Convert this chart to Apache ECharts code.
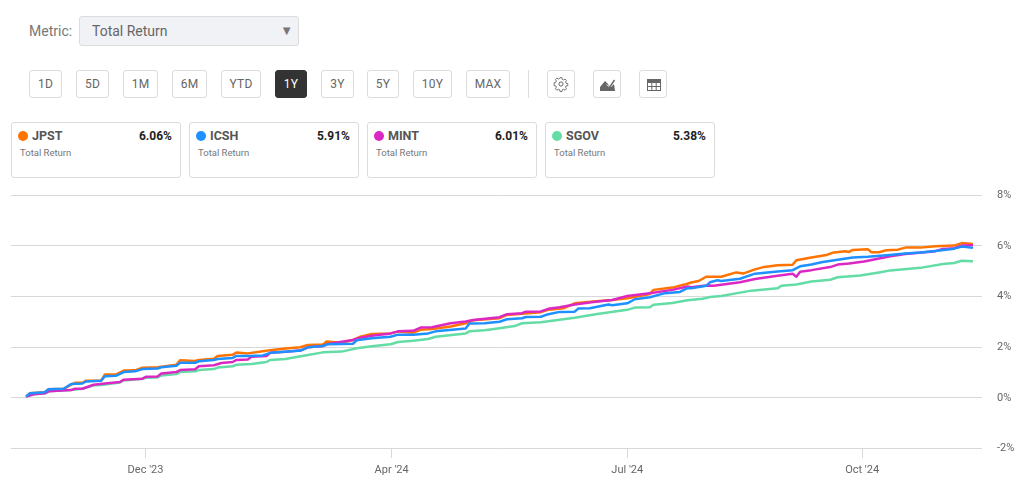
<!DOCTYPE html>
<html>
<head>
<meta charset="utf-8">
<script src="https://cdn.jsdelivr.net/npm/echarts@6/dist/echarts.min.js"></script>
<style>
  html, body { margin: 0; padding: 0; background: #fff; }
  body { width: 1030px; height: 485px; position: relative; overflow: hidden; font-family: Roboto, sans-serif; }
  .abs { position: absolute; box-sizing: border-box; }
  #metricLabel { left: 29px; top: 22px; font-size: 14px; line-height: 18px; color: #777; }
  #metricBox { left: 79px; top: 16px; width: 220px; height: 30px; background: #f1f2f6; border: 1px solid #dcdcdc; border-radius: 3px;
    font-size: 14px; line-height: 28px; padding-left: 12px; color: #666; }
  #metricBox span { position: absolute; right: 5px; top: 0; font-size: 13px; color: #777; }
  .btn { top: 70px; height: 28px; border: 1px solid #dcdcdc; border-radius: 3px; background: #fff; color: #666;
    font-size: 12px; line-height: 26px; text-align: center; letter-spacing: 0.2px; }
  .btn.on { background: #333; border-color: #333; color: #fff; }
  .btn svg { position: absolute; left: 5px; top: 5px; }
  #sep { left: 528px; top: 70px; width: 1px; height: 28px; background: #dcdcdc; }
  .card { top: 122px; width: 170px; height: 56px; border: 1px solid #dcdcdc; border-radius: 3px; background: #fff; }
  .dot { position: absolute; left: 6px; top: 8px; width: 10px; height: 10px; border-radius: 50%; }
  .tk { position: absolute; left: 20px; top: 5px; font-size: 12.5px; line-height: 16px; font-weight: 700; color: #555; }
  .val { position: absolute; right: 8px; top: 5px; font-size: 12px; line-height: 16px; font-weight: 700; color: #222; }
  .sub { position: absolute; left: 8px; top: 23px; font-size: 9.5px; line-height: 13px; color: #777; }
  #chart { left: 0; top: 185px; width: 1030px; height: 300px; }
</style>
</head>
<body>
<div class="abs" id="metricLabel">Metric:</div>
<div class="abs" id="metricBox">Total Return<span>&#9660;</span></div>
<div id="buttons"></div>
<div class="abs" id="sep"></div>
<div class="abs btn" style="left:547px;width:28px"><svg width="16" height="16" viewBox="0 0 16 16" fill="none" stroke="#666" stroke-width="1"><circle cx="8" cy="8" r="2.1"/><path d="M6.9 1.5h2.2l.4 1.9 1.3.6 1.7-1 1.5 1.6-1 1.6.5 1.3 1.9.5v2.2l-1.9.4-.5 1.3 1 1.7-1.5 1.5-1.7-1-1.3.5-.4 1.9H6.9l-.4-1.9-1.3-.5-1.7 1-1.5-1.5 1-1.7-.5-1.3-1.9-.4V7l1.9-.5.5-1.3-1-1.6L3.5 2l1.7 1 1.3-.6z" transform="translate(0.6 0.3) scale(0.92)"/></svg></div>
<div class="abs btn" style="left:593px;width:28px"><svg width="18" height="18" viewBox="0 0 18 18"><path d="M1 15v-4l5-6 3 3 1 2 2 1 3-3 1 7z" fill="#666"/><path d="M7.5 9.5l2.6 2.4L15.5 4" fill="none" stroke="#666" stroke-width="1.4"/><path d="M7.5 8.6l2.6 2.2" stroke="#fff" stroke-width="0.8" fill="none"/></svg></div>
<div class="abs btn" style="left:639px;width:28px"><svg width="18" height="18" viewBox="0 0 18 18" fill="none" stroke="#666" stroke-width="1"><rect x="2.5" y="3.5" width="13" height="11"/><rect x="2.5" y="3.5" width="13" height="3" fill="#666"/><path d="M2.5 10.5h13M6.8 6.5v8M11.2 6.5v8"/></svg></div>
<div id="cards"></div>
<div class="abs" id="chart"></div>
<script>
// Positions along the axis are trading-session numbers (0 to 252 over the year)
const tickSessions = [31.8, 97.3, 160, 222.5];
const tickLabels = ["Dec '23", "Apr '24", "Jul '24", "Oct '24"];

const tickers = ["JPST", "ICSH", "MINT", "SGOV"];
const colors = ["#ff7300", "#1e90ff", "#dc28c3", "#64dca5"];

const jpstSessions = [0,1,5,6,10,13,15,16,20,21,24,26,29,31,35,40,41,45,46,50,51,55,56,59,63,65,69,73,75,79,80,84,87,89,92,97,99,103,105,108,113,117,119,126,128,132,137,139,143,146,151,156,160,166,167,172,176,177,179,181,185,189,191,194,196,200,204,205,209,213,215,218,219,220,224,225,227,229,232,234,238,242,247,249,252];
const jpstValues = [0.03,0.16,0.20,0.32,0.34,0.58,0.58,0.66,0.66,0.91,0.91,1.06,1.07,1.17,1.19,1.29,1.47,1.44,1.48,1.53,1.64,1.69,1.77,1.74,1.82,1.86,1.93,1.98,2.07,2.09,2.21,2.16,2.27,2.40,2.51,2.53,2.60,2.56,2.67,2.70,2.80,2.93,3.05,3.13,3.26,3.31,3.37,3.46,3.52,3.72,3.79,3.85,3.92,4.09,4.25,4.34,4.49,4.54,4.60,4.77,4.77,4.94,4.90,5.06,5.14,5.22,5.24,5.42,5.53,5.63,5.73,5.78,5.75,5.83,5.86,5.74,5.74,5.82,5.84,5.92,5.92,5.97,6.00,6.10,6.06];

const icshSessions = [0,1,5,6,10,12,15,16,20,21,24,26,29,31,35,36,40,41,45,46,50,51,55,56,59,63,65,69,73,75,79,80,84,87,88,92,97,99,103,107,109,117,118,122,126,128,132,133,137,139,142,146,147,150,152,155,156,160,162,166,170,174,176,177,181,182,184,185,190,194,200,204,206,209,212,216,220,224,229,234,238,242,247,249,252];
const icshValues = [0.03,0.16,0.20,0.32,0.34,0.53,0.55,0.63,0.66,0.84,0.86,1.00,1.03,1.12,1.14,1.19,1.25,1.37,1.37,1.43,1.48,1.52,1.56,1.64,1.64,1.66,1.76,1.80,1.85,1.98,2.03,2.10,2.11,2.12,2.26,2.34,2.40,2.48,2.48,2.53,2.61,2.72,2.92,2.93,2.99,3.09,3.13,3.18,3.19,3.29,3.38,3.39,3.51,3.52,3.58,3.67,3.64,3.72,3.88,3.96,4.12,4.17,4.32,4.31,4.41,4.55,4.63,4.60,4.69,4.89,4.98,5.03,5.18,5.25,5.35,5.44,5.53,5.56,5.62,5.69,5.73,5.79,5.88,5.96,5.91];

const mintSessions = [0,2,5,6,12,13,15,18,21,25,26,31,32,35,36,40,41,45,46,50,52,55,56,59,60,64,65,69,73,75,79,80,84,87,89,92,97,99,103,105,108,113,117,119,126,128,132,133,137,139,142,146,151,156,160,166,172,176,177,181,183,190,194,200,204,205,206,209,214,216,219,223,227,230,234,242,244,247,249,252];
const mintValues = [0.03,0.12,0.16,0.24,0.29,0.34,0.34,0.50,0.55,0.61,0.70,0.74,0.82,0.83,0.94,1.00,1.08,1.11,1.23,1.27,1.36,1.40,1.48,1.50,1.61,1.64,1.76,1.80,1.85,1.98,2.03,2.10,2.20,2.27,2.36,2.44,2.53,2.61,2.63,2.76,2.77,2.93,3.00,3.06,3.17,3.29,3.33,3.39,3.40,3.50,3.56,3.67,3.77,3.85,4.01,4.12,4.25,4.38,4.35,4.42,4.41,4.55,4.68,4.81,4.89,4.77,4.97,5.03,5.15,5.25,5.29,5.37,5.49,5.58,5.67,5.78,5.87,5.90,6.00,6.01];

const sgovSessions = [0,2,5,6,12,15,18,20,25,26,31,32,35,36,40,41,45,46,50,51,55,56,60,64,65,69,75,79,84,88,92,97,99,103,107,109,117,118,122,126,130,132,137,142,146,152,160,162,166,167,172,176,180,182,185,193,200,201,205,209,214,216,222,227,230,238,244,247,249,252];
const sgovValues = [0.03,0.12,0.16,0.24,0.29,0.34,0.48,0.49,0.59,0.67,0.74,0.78,0.79,0.87,0.92,1.00,1.03,1.08,1.12,1.18,1.23,1.29,1.32,1.40,1.48,1.52,1.68,1.78,1.81,1.94,2.02,2.10,2.19,2.24,2.31,2.40,2.53,2.61,2.65,2.73,2.82,2.93,2.97,3.07,3.15,3.30,3.46,3.55,3.56,3.66,3.73,3.84,3.90,3.97,4.01,4.22,4.31,4.41,4.46,4.58,4.65,4.75,4.82,4.94,5.02,5.12,5.27,5.31,5.40,5.38];

const seriesSessions = [jpstSessions, icshSessions, mintSessions, sgovSessions];
const seriesValues = [jpstValues, icshValues, mintValues, sgovValues];

// Period buttons: label, left edge, width
const periodLabels = ["1D","5D","1M","6M","YTD","1Y","3Y","5Y","10Y","MAX"];
const periodLefts = [29,76,123,172,221,275,321,367,413,466];
const periodWidths = [33,33,35,35,40,32,33,32,39,44];
periodLabels.forEach((text, i) => {
  const b = document.createElement('div');
  b.className = 'abs btn' + (text === '1Y' ? ' on' : '');
  b.style.left = periodLefts[i] + 'px';
  b.style.width = periodWidths[i] + 'px';
  b.textContent = text;
  document.getElementById('buttons').appendChild(b);
});

// Summary cards carry each fund's closing value
const cardLefts = [11, 189, 367, 545];
tickers.forEach((name, i) => {
  const values = seriesValues[i];
  const c = document.createElement('div');
  c.className = 'abs card';
  c.style.left = cardLefts[i] + 'px';
  c.innerHTML = '<i class="dot" style="background:' + colors[i] + '"></i><div class="tk">' + name + '</div>' +
    '<div class="val">' + values[values.length - 1].toFixed(2) + '%</div><div class="sub">Total Return</div>';
  document.getElementById('cards').appendChild(c);
});

const chart = echarts.init(document.getElementById('chart'), null, { renderer: 'canvas' });
const lineOf = (i) => ({
  name: tickers[i],
  type: 'line',
  showSymbol: false,
  smooth: false,
  lineStyle: { color: colors[i], width: 2.5, join: 'round' },
  itemStyle: { color: colors[i] },
  data: seriesSessions[i].map((s, k) => [s, seriesValues[i][k]])
});

chart.setOption({
  animation: false,
  grid: { left: 11, right: 48, top: 10, bottom: 37 },
  xAxis: {
    type: 'value',
    min: -4,
    max: 254.4,
    splitLine: { show: false },
    axisLine: { show: false, onZero: false },
    axisTick: { show: true, length: 10, customValues: tickSessions, lineStyle: { color: '#d8d8d8' } },
    axisLabel: {
      customValues: tickSessions,
      formatter: (v) => tickLabels[tickSessions.indexOf(v)] || '',
      color: '#666', fontFamily: 'Roboto', fontSize: 11, margin: 17
    }
  },
  yAxis: {
    type: 'value',
    min: -2,
    max: 8,
    interval: 2,
    position: 'right',
    axisLine: { show: false },
    axisTick: { show: false },
    splitLine: { lineStyle: { color: '#d8d8d8', width: 1 } },
    axisLabel: {
      formatter: '{value}%', color: '#666', fontFamily: 'Roboto', fontSize: 11, margin: 15,
      verticalAlign: 'top', verticalAlignMaxLabel: 'top', verticalAlignMinLabel: 'top', padding: [-5, 0, 0, 0]
    }
  },
  // Later series paint over earlier ones
  series: [lineOf(3), lineOf(0), lineOf(2), lineOf(1)]
});
</script>
</body>
</html>
